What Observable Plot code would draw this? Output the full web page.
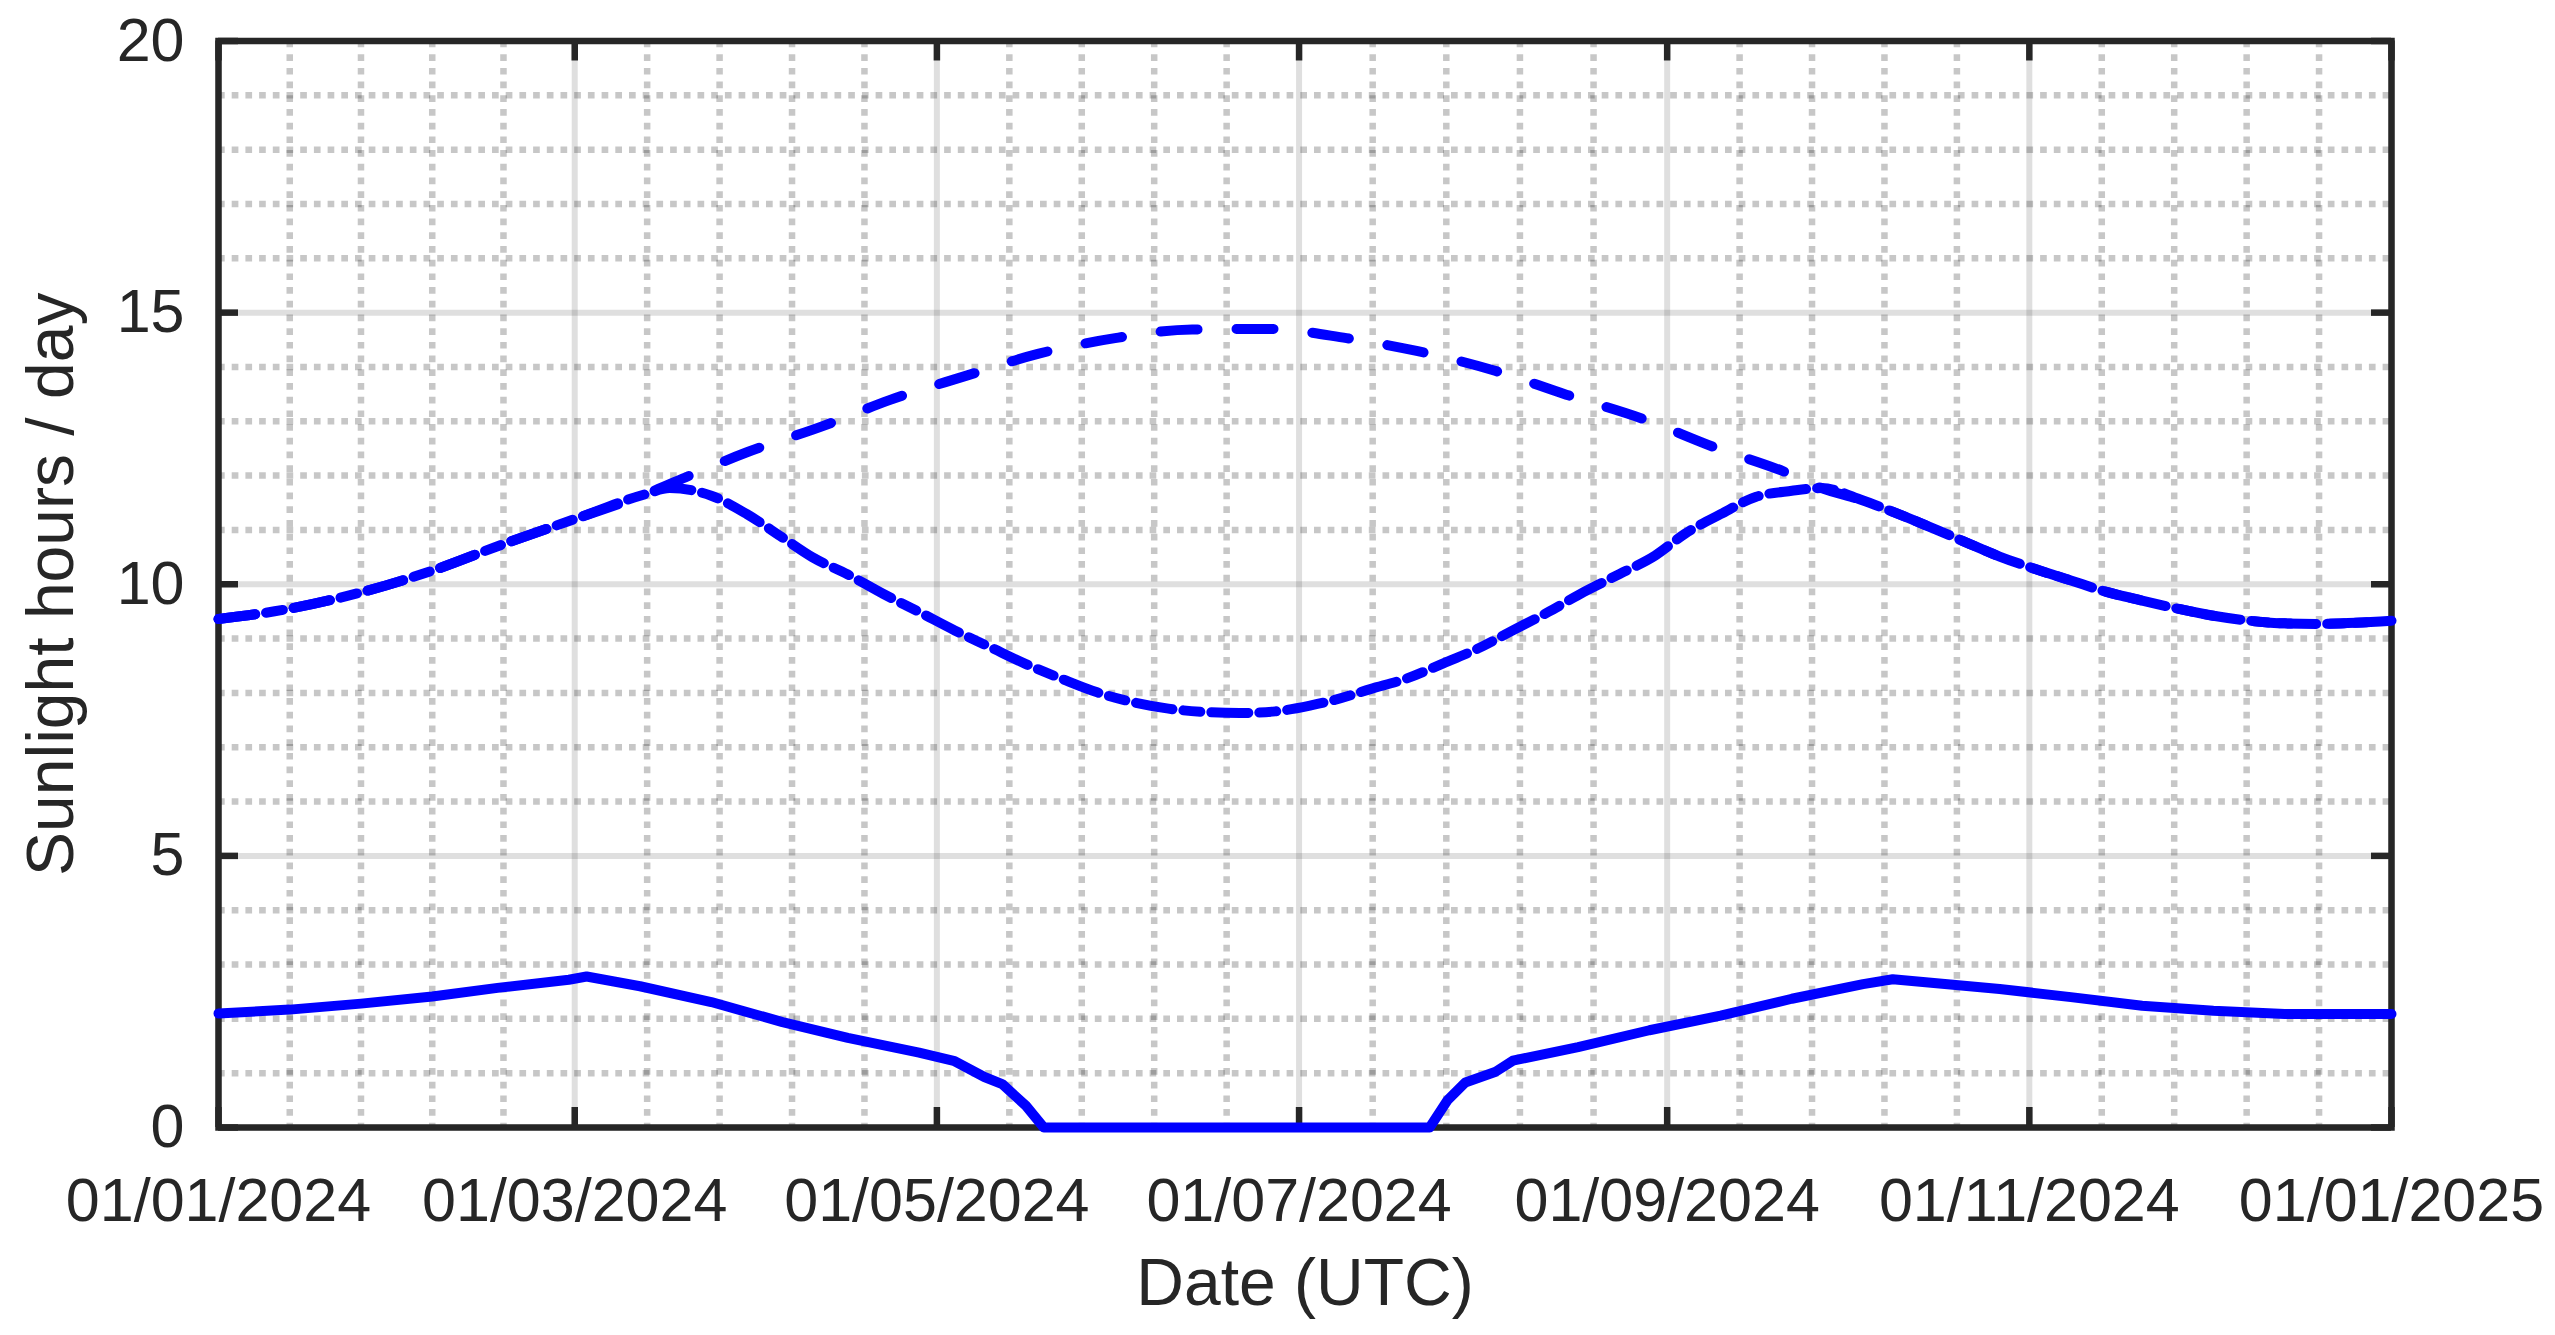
<!DOCTYPE html>
<html><head><meta charset="utf-8">
<script src="https://cdn.jsdelivr.net/npm/d3@7"></script>
<script src="https://cdn.jsdelivr.net/npm/@observablehq/plot@0.6"></script>
<style>html,body{margin:0;padding:0;background:#fff;} svg{display:block}</style>
</head><body><div id="chart"></div>
<script>
// ---- tick labels ----
const xTickDates = ["2024-01-01","2024-03-01","2024-05-01","2024-07-01","2024-09-01","2024-11-01","2025-01-01"];
const yTicks = [0, 5, 10, 15, 20];

// ---- series 1: day length (dashed) ----
const dayLenDates = ["2024-01-01","2024-01-13","2024-01-25","2024-02-06","2024-02-18","2024-03-01","2024-03-13","2024-03-21","2024-03-30","2024-04-12","2024-04-23","2024-05-06","2024-05-18","2024-05-31","2024-06-13","2024-06-26","2024-07-09","2024-07-21","2024-08-03","2024-08-15","2024-08-28","2024-09-09","2024-09-21","2024-09-27","2024-10-04","2024-10-10","2024-10-16","2024-10-22","2024-10-27","2024-11-02","2024-11-08","2024-11-14","2024-11-20","2024-11-26","2024-12-02","2024-12-08","2024-12-14","2024-12-20","2024-12-26","2025-01-01"];
const dayLenHours = [9.36,9.55,9.85,10.25,10.74,11.20,11.66,12.03,12.43,12.92,13.39,13.84,14.24,14.53,14.69,14.70,14.53,14.29,13.93,13.49,13.04,12.52,12.06,11.77,11.54,11.29,11.02,10.74,10.51,10.28,10.07,9.86,9.70,9.55,9.42,9.33,9.28,9.27,9.29,9.33];

// ---- series 2: dash-dot ----
const wallDates = ["2024-01-01","2024-01-13","2024-01-25","2024-02-06","2024-02-18","2024-03-01","2024-03-13","2024-03-17","2024-03-24","2024-03-30","2024-04-05","2024-04-10","2024-04-16","2024-04-22","2024-04-28","2024-05-04","2024-05-10","2024-05-16","2024-05-22","2024-05-28","2024-06-03","2024-06-09","2024-06-15","2024-06-21","2024-06-27","2024-07-03","2024-07-07","2024-07-13","2024-07-19","2024-07-25","2024-07-31","2024-08-06","2024-08-12","2024-08-18","2024-08-24","2024-08-30","2024-09-04","2024-09-10","2024-09-16","2024-09-22","2024-09-27","2024-10-04","2024-10-10","2024-10-16","2024-10-22","2024-10-27","2024-11-02","2024-11-08","2024-11-14","2024-11-20","2024-11-26","2024-12-02","2024-12-08","2024-12-14","2024-12-20","2024-12-26","2025-01-01"];
const wallHours = [9.36,9.55,9.85,10.25,10.74,11.20,11.66,11.77,11.63,11.29,10.86,10.50,10.18,9.82,9.49,9.15,8.84,8.53,8.26,8.01,7.83,7.71,7.65,7.63,7.66,7.77,7.87,8.07,8.26,8.53,8.81,9.15,9.49,9.86,10.19,10.53,10.93,11.29,11.61,11.72,11.77,11.54,11.29,11.02,10.74,10.51,10.28,10.07,9.86,9.70,9.55,9.42,9.33,9.28,9.27,9.29,9.33];

// ---- series 3: solid ----
const lowDates = ["2024-01-01","2024-01-13","2024-01-25","2024-02-06","2024-02-17","2024-02-29","2024-03-03","2024-03-12","2024-03-24","2024-04-05","2024-04-16","2024-04-28","2024-05-01","2024-05-04","2024-05-09","2024-05-12","2024-05-16","2024-05-19","2024-07-23","2024-07-26","2024-07-29","2024-08-03","2024-08-06","2024-08-17","2024-08-29","2024-09-10","2024-09-22","2024-10-04","2024-10-09","2024-10-15","2024-10-27","2024-11-08","2024-11-20","2024-12-02","2024-12-14","2024-12-26","2025-01-01"];
const lowHours = [2.10,2.17,2.28,2.41,2.57,2.72,2.78,2.60,2.31,1.94,1.65,1.38,1.30,1.22,0.93,0.80,0.40,0,0,0.50,0.83,1.02,1.23,1.48,1.79,2.06,2.37,2.64,2.73,2.67,2.55,2.40,2.24,2.15,2.09,2.09,2.09];

// ---- build ----
const toRows = (ds, vs) => ds.map((d, i) => ({date: new Date(d), hours: vs[i]}));
const dayLen = toRows(dayLenDates, dayLenHours);
const wall = toRows(wallDates, wallHours);
const low = toRows(lowDates, lowHours);

const W = 2555, H = 1335, mL = 218, mR = 164, mT = 40.5, mB = 208;
const fw = W - mL - mR, fh = H - mT - mB;
const tickLen = 20;
const ink = "#262626";
const blue = "#0000ff";
const lw = 10;

const xMajor = xTickDates.map(s => new Date(s));
const xMinor = d3.pairs(xMajor).flatMap(([a, b]) => d3.range(1, 5).map(i => new Date(+a + (b - a) * i / 5)));
const yMinor = d3.range(0, 21).filter(v => v % 5 !== 0);

// dash patterns (MATLAB-like), period P
function makeChart(P) {
  const k = P / 76;
  const dashed = [37 * k, 39 * k].map(v => v.toFixed(3)).join(",");
  const dashdot = [37 * k, 11 * k, 17 * k, 11 * k].map(v => v.toFixed(3)).join(",");
  return Plot.plot({
    width: W, height: H,
    marginLeft: mL, marginRight: mR, marginTop: mT, marginBottom: mB,
    style: {fontFamily: "'Liberation Sans', Arial, Helvetica, sans-serif", color: ink, background: "#fff", overflow: "visible"},
    x: {type: "utc", domain: [xMajor[0], xMajor[xMajor.length - 1]]},
    y: {domain: [0, 20]},
    marks: [
      Plot.ruleX(xMajor, {x: d => d, stroke: ink, strokeOpacity: 0.15, strokeWidth: 6}),
      Plot.ruleY(yTicks, {y: d => d, stroke: ink, strokeOpacity: 0.15, strokeWidth: 6}),
      Plot.ruleX(xMinor, {x: d => d, stroke: ink, strokeOpacity: 0.26, strokeWidth: 6.5, strokeDasharray: "6.7,7"}),
      Plot.ruleY(yMinor, {y: d => d, stroke: ink, strokeOpacity: 0.26, strokeWidth: 6.5, strokeDasharray: "6.7,7"}),
      Plot.frame({stroke: ink, strokeWidth: 6.5}),
      Plot.ruleX(xMajor, {x: d => d, stroke: ink, strokeWidth: 6.5, insetTop: fh - tickLen}),
      Plot.ruleX(xMajor, {x: d => d, stroke: ink, strokeWidth: 6.5, insetBottom: fh - tickLen}),
      Plot.ruleY(yTicks, {y: d => d, stroke: ink, strokeWidth: 6.5, insetRight: fw - tickLen}),
      Plot.ruleY(yTicks, {y: d => d, stroke: ink, strokeWidth: 6.5, insetLeft: fw - tickLen}),
      Plot.axisX({ticks: xMajor, tickSize: 0, tickPadding: 50, tickFormat: d3.utcFormat("%d/%m/%Y"), fontSize: 61, label: null}),
      Plot.axisY({ticks: yTicks, tickSize: 0, tickPadding: 34, fontSize: 61, label: null}),
      Plot.text(["Date (UTC)"], {frameAnchor: "bottom", textAnchor: "middle", lineAnchor: "middle", dy: 156, fontSize: 66, fill: ink}),
      Plot.text(["Sunlight hours / day"], {frameAnchor: "left", textAnchor: "middle", lineAnchor: "middle", rotate: -90, dx: -167, fontSize: 66, fill: ink}),
      Plot.line(low, {x: "date", y: "hours", stroke: blue, strokeWidth: lw, curve: "linear"}),
      Plot.line(dayLen, {x: "date", y: "hours", stroke: blue, strokeWidth: lw, curve: "monotone-x", strokeDasharray: dashed}),
      Plot.line(wall, {x: "date", y: "hours", stroke: blue, strokeWidth: lw, curve: "monotone-x", strokeDasharray: dashdot})
    ]
  });
}

const holder = document.getElementById("chart");
let chart = makeChart(76);
holder.appendChild(chart);
// keep both patterns in phase where the two curves coincide (as in the source rendering)
try {
  const paths = chart.querySelectorAll('g[aria-label="line"] path');
  if (paths.length >= 3) {
    const dL = Math.abs(paths[1].getTotalLength() - paths[2].getTotalLength());
    const n = Math.max(1, Math.round(dL / 76));
    const P = dL / n;
    if (P > 60 && P < 95) {
      const c2 = makeChart(P);
      holder.replaceChild(c2, chart);
      chart = c2;
    }
  }
} catch (e) { console.log(e); }
</script>
</body></html>
